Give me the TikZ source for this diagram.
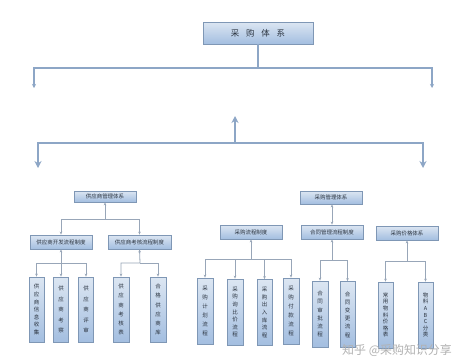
\documentclass[tikz,border=0pt]{standalone}
\usepackage{fontspec}
\setmainfont{Noto Sans CJK SC}
\usepackage{tikz}
\usetikzlibrary{arrows.meta,positioning,shapes.geometric,calc}
\definecolor{boxline}{HTML}{7F97B5}
\definecolor{boxtop}{HTML}{DCE6F2}
\definecolor{boxbot}{HTML}{A3BEE0}
\definecolor{linkc}{HTML}{8DA6C6}
\definecolor{grouplink}{HTML}{98A6B8}
\definecolor{labelc}{HTML}{2B3440}

\tikzset{
  cbox/.style={draw=boxline, line width=0.8bp, top color=boxtop, bottom color=boxbot,
    text=labelc, inner sep=0pt},
  hbox/.style={cbox, minimum width=62bp, minimum height=14bp,
    font=\fontsize{5.5}{6}\selectfont},
  vbox/.style={cbox, minimum width=16bp, minimum height=66bp, align=center,
    font=\fontsize{5.5}{#1}\selectfont},
  vbox/.default=8,
  thinlink/.style={draw=linkc, line width=1.2bp, -{Stealth[length=4bp,width=4bp]}},
  thicklink/.style={draw=linkc, line width=2.5bp, -{Stealth[length=7bp,width=7bp]}},
  glink/.style={draw=grouplink, line width=0.8bp, -{Stealth[length=3bp,width=2.6bp]}},
  gboth/.style={glink, {Stealth[length=3bp,width=2.6bp]}-{Stealth[length=3bp,width=2.6bp]}},
}

\begin{document}
\begin{tikzpicture}[x=1bp, y=-1bp]
  \useasboundingbox[fill=white] (0,0) rectangle (474,362);

  % Top level
  \node[cbox, minimum width=110bp, minimum height=22bp, font=\fontsize{8.5}{9}\selectfont]
    (top) at (258,33) {采\hspace{0.8em}购\hspace{0.8em}体\hspace{0.8em}系};
  \coordinate (bus1) at (258,68);
  \coordinate (topL) at (34,88);
  \coordinate (topR) at (432,88);
  \draw[thinlink] (top.south) -- (bus1) -| (topL);
  \draw[thinlink] (bus1) -| (topR);

  % Second bus
  \coordinate (hub) at (235,143);
  \coordinate (upTip) at (235,116);
  \coordinate (midL) at (38,168);
  \coordinate (midR) at (423,168);
  \draw[thicklink] (hub) -- (upTip);
  \draw[thicklink] (hub) -| (midL);
  \draw[thicklink] (hub) -| (midR);

  % Supplier management
  \node[hbox, minimum height=11bp] (supm) at (105,196.5) {供应商管理体系};
  \node[hbox] (dev) at (61,242) {供应商开发流程制度};
  \node[hbox, minimum width=63bp] (eva) at (139.5,242) {供应商考核流程制度};
  \coordinate (j1) at (105,219);
  \draw[gboth] (supm.south) -- (j1) -| (dev.north);
  \draw[glink] (j1) -| (eva.north);

  \node[vbox=7.6, minimum width=15bp, minimum height=65bp] (s1) at (36.5,309.5) {供\\应\\商\\信\\息\\收\\集};
  \node[vbox=10.6, minimum width=15bp, minimum height=65bp] (s2) at (61,309.5) {供\\应\\商\\考\\察};
  \node[vbox=10.6, minimum width=15bp, minimum height=65bp] (s3) at (86,309.5) {供\\应\\商\\评\\审};
  \coordinate (j2) at (61,263);
  \draw[gboth] (dev.south) -- (j2) -| (s1.north);
  \draw[glink] (j2) -- (s2.north);
  \draw[glink] (j2) -| (s3.north);

  \node[vbox=9.1, minimum height=65bp] (s4) at (121,309.5) {供\\应\\商\\考\\核\\表};
  \node[vbox=9.1, minimum height=65bp] (s5) at (158,309.5) {合\\格\\供\\应\\商\\库};
  \coordinate (j3) at (140,263);
  \draw[gboth] (eva.south) -- (j3) -| (s4.north);
  \draw[glink] (j3) -| (s5.north);

  % Purchasing management
  \node[hbox, minimum height=13bp] (pm) at (331,197.5) {采购管理体系};
  \node[hbox] (pf) at (251,232) {采购流程制度};
  \node[hbox] (cm) at (332,232) {合同管理流程制度};
  \node[hbox] (pp) at (407,233) {采购价格体系};
  \draw[gboth] (pm.south -| cm.north) -- (cm.north);

  \node[vbox=9.1] (p1) at (205,311) {采\\购\\计\\划\\流\\程};
  \node[vbox=7.6] (p2) at (235,312) {采\\购\\询\\比\\价\\流\\程};
  \node[vbox=7.6, minimum width=15bp] (p3) at (264.5,312.5) {采\\购\\出\\入\\库\\流\\程};
  \node[vbox=9.1] (p4) at (291,311) {采\\购\\付\\款\\流\\程};
  \coordinate (j4) at (251,259);
  \draw[gboth] (pf.south) -- (j4) -| (p1.north);
  \draw[glink] (j4) -| (p2.north);
  \draw[glink] (j4) -| (p3.north);
  \draw[glink] (j4) -| (p4.north);

  \node[vbox=8.2] (c1) at (320,314) {合\\同\\审\\批\\流\\程};
  \node[vbox=8.2, minimum width=15bp] (c2) at (347.5,314.5) {合\\同\\变\\更\\流\\程};
  \coordinate (j5) at (332,260);
  \draw[gboth] (cm.south) -- (j5) -| (c1.north);
  \draw[glink] (j5) -| (c2.north);

  \node[vbox=6.6, minimum width=15bp] (r1) at (385.5,315) {常\\用\\物\\料\\价\\格\\表};
  \node[vbox=6.6, minimum width=15bp] (r2) at (425.5,315) {物\\料\\A\\B\\C\\分\\类};
  \coordinate (j6) at (407,261);
  \draw[gboth] (pp.south) -- (j6) -| (r1.north);
  \draw[glink] (j6) -| (r2.north);

  % Watermark
  \node[text=gray!60, font=\fontsize{12}{13}\selectfont, inner sep=0pt] (wm) at (397,350) {知乎 @采购知识分享};
\end{tikzpicture}
\end{document}
